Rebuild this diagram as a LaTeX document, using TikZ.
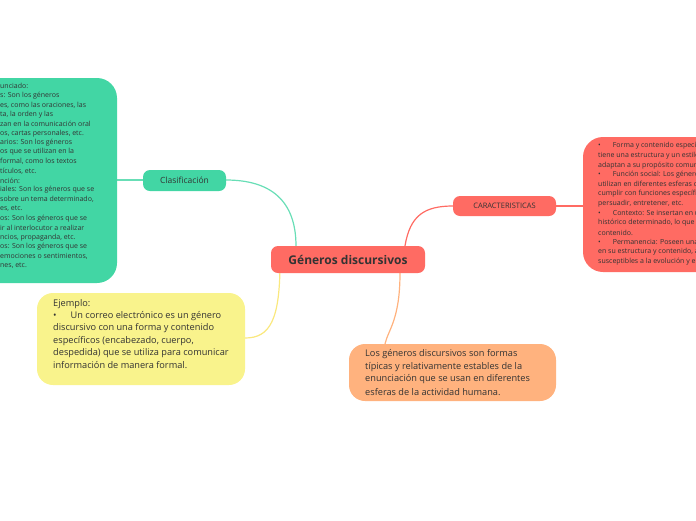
\documentclass[tikz,border=0pt]{standalone}
\usepackage{fontspec}
\setmainfont{Open Sans}
\begin{document}
\begin{tikzpicture}[x=1pt,y=-1pt,
  conn/.style={line width=1.2pt},
  tl/.style={anchor=west,inner sep=0pt,font=\fontsize{7}{8}\selectfont},
  ytext/.style={anchor=west,inner sep=0pt,font=\fontsize{9.2}{11}\selectfont},
  pill/.style={rounded corners=7pt,inner sep=0pt}]
\useasboundingbox (0,0) rectangle (696,520);
\definecolor{gr}{HTML}{42D6A4}
\definecolor{rd}{HTML}{FF6B63}
\definecolor{ylw}{HTML}{F9F38C}
\definecolor{orn}{HTML}{FFB27E}
\definecolor{txt}{HTML}{333333}
\clip (0,0) rectangle (696,520);
% connectors
\coordinate (cgl) at (296,246);
\coordinate (cyl) at (280,262);
\coordinate (crd) at (405,246);
\coordinate (cor) at (400,273);
\coordinate (clL) at (143,180);
\coordinate (clR) at (226,180);
\coordinate (gbR) at (117,180);
\coordinate (caL) at (453,206);
\coordinate (caR) at (556,206);
\coordinate (rbL) at (583,206);
\coordinate (ybR) at (245,338);
\coordinate (obT) at (385,344);
\draw[conn,gr!80] (clR) .. controls (270,180) and (296,200) .. (cgl);
\draw[conn,gr!80] (gbR) -- (clL);
\draw[conn,ylw!90!orange] (cyl) .. controls (280,320) and (270,338) .. (ybR);
\draw[conn,rd] (crd) .. controls (410,215) and (425,206) .. (caL);
\draw[conn,rd] (caR) -- (rbL);
\draw[conn,orn] (cor) .. controls (400,320) and (388,330) .. (obT);
% boxes
\fill[gr,rounded corners=20pt] (-30,78) rectangle (117,283);
\fill[rd,rounded corners=20pt] (583,137) rectangle (740,272);
\fill[ylw,rounded corners=16pt] (37,293) rectangle (245,385);
\fill[orn,rounded corners=16pt] (349,344) rectangle (556,401);
\node[pill,fill=rd,minimum width=154pt,minimum height=27pt,font=\bfseries\fontsize{12}{14}\selectfont,text=txt] (cen) at (348,259.5) {Géneros discursivos};
\node[pill,fill=gr,minimum width=83pt,minimum height=21pt,font=\fontsize{8.5}{10}\selectfont,text=txt] (cla) at (184.5,180.5) {Clasificación};
\node[pill,fill=rd,minimum width=103pt,minimum height=20pt,font=\fontsize{7.5}{9}\selectfont,text=txt] (car) at (504.5,206) {CARACTERISTICAS};
% left green text
\foreach \t [count=\i] in {unciado:,s: Son los géneros,{es, como las oraciones, las},{ta, la orden y las},zan en la comunicación oral,{os, cartas personales, etc.},arios: Son los géneros,os que se utilizan en la,{formal, como los textos},{tículos, etc.},nción:,iales: Son los géneros que se,{ sobre un tema determinado,},{es, etc.},os: Son los géneros que se,ir al interlocutor a realizar,{ncios, propaganda, etc.},os: Son los géneros que se,{ emociones o sentimientos,},{nes, etc.}}
  \node[tl,text=txt] (g\i) at (0,{86+(\i-1)*9.45}) {\t};
% right red text
\foreach \t [count=\i] in {{•\hspace{12pt}Forma y contenido específicos: Cada género}, {tiene una estructura y un estilo propios que se}, {adaptan a su propósito comunicativo.}, {•\hspace{12pt}Función social: Los géneros discursivos se}, {utilizan en diferentes esferas de la actividad para}, {cumplir con funciones específicas, como informar,}, {persuadir, entretener, etc.}, {•\hspace{12pt}Contexto: Se insertan en un contexto social e}, {histórico determinado, lo que influye en su forma y}, {contenido.}, {•\hspace{12pt}Permanencia: Poseen una cierta estabilidad}, {en su estructura y contenido, aunque también son}, {susceptibles a la evolución y el cambio.}}
  \node[tl,text=txt] (r\i) at (598,{146+(\i-1)*9.6}) {\t};
% yellow text
\foreach \t [count=\i] in {Ejemplo:,{•\hspace{14pt}Un correo electrónico es un género},discursivo con una forma y contenido,{específicos (encabezado, cuerpo,},despedida) que se utiliza para comunicar,información de manera formal.}
  \node[ytext,text=txt] (y\i) at (53,{304+(\i-1)*12.2}) {\t};
% orange text
\foreach \t [count=\i] in {Los géneros discursivos son formas,típicas y relativamente estables de la,enunciación que se usan en diferentes,esferas de la actividad humana.}
  \node[ytext,text=txt] (o\i) at (365,{354+(\i-1)*12.6}) {\t};
\end{tikzpicture}
\end{document}
